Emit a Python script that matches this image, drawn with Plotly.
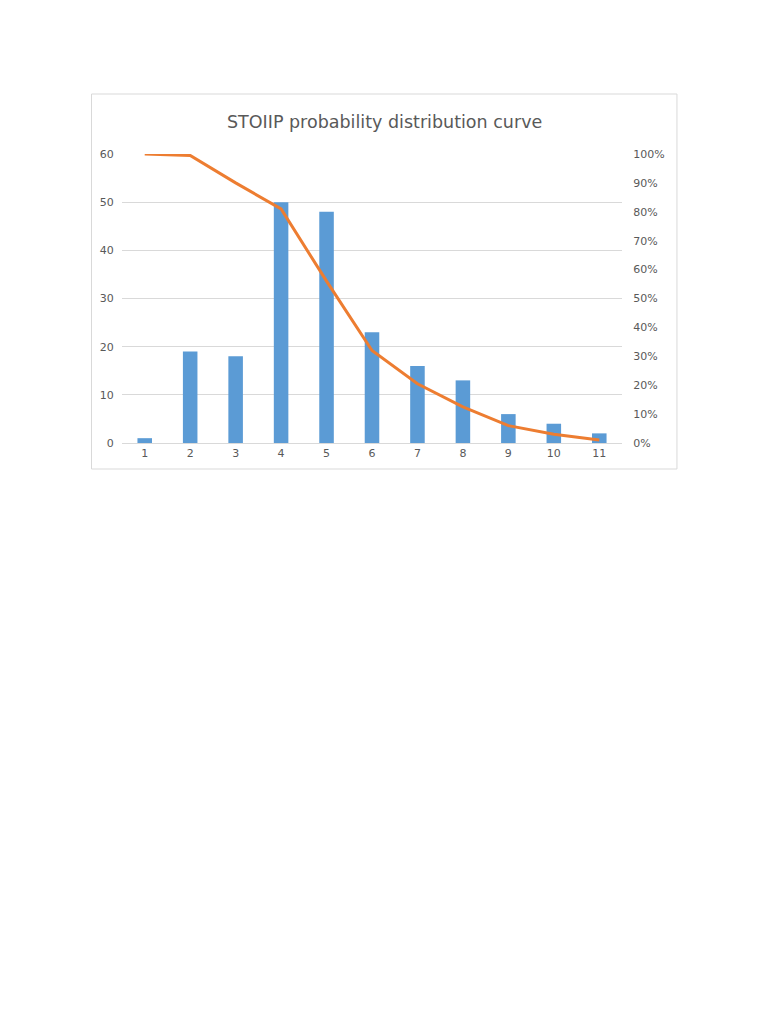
import plotly.graph_objects as go

categories = ["1", "2", "3", "4", "5", "6", "7", "8", "9", "10", "11"]
counts = [1, 19, 18, 50, 48, 23, 16, 13, 6, 4, 2]
cum_prob = [1.0, 0.995, 0.90, 0.81, 0.56, 0.32, 0.205, 0.125, 0.06, 0.03, 0.01]
left_ticks = [0, 10, 20, 30, 40, 50, 60]
right_ticks = [0, 0.1, 0.2, 0.3, 0.4, 0.5, 0.6, 0.7, 0.8, 0.9, 1.0]
title = "STOIIP probability distribution curve"

OFF = 8  # page body margin
W, H = 752, 1000
L, R, T, B = 121.5 - OFF, 622 - OFF, 154 - OFF, 443 - OFF
pw, ph = R - L, B - T

def px(x):
    return (x - OFF - L) / pw

def py(y):
    return (B - (y - OFF)) / ph

font = "DejaVu Sans"
grey = "#595959"

fig = go.Figure()
fig.add_trace(go.Bar(x=categories, y=counts, marker_color="#5B9BD5",
                     marker_line_width=0, width=0.32, yaxis="y"))
fig.add_trace(go.Scatter(x=categories, y=cum_prob, mode="lines",
                         line=dict(color="#ED7D31", width=3),
                         yaxis="y2"))

fig.update_layout(
    width=W, height=H,
    margin=dict(l=L, r=W - R, t=T, b=H - B, pad=0),
    paper_bgcolor="white", plot_bgcolor="white",
    showlegend=False,
    font=dict(family=font, color=grey, size=11),
    xaxis=dict(type="category", range=[-0.5, 10.5], showgrid=False,
               showline=True, linecolor="#d9d9d9", linewidth=1,
               ticks="", tickfont=dict(size=11, color=grey, family=font),
               zeroline=False),
    yaxis=dict(range=[0, 60], tickvals=left_ticks, showgrid=True,
               gridcolor="#d9d9d9", gridwidth=1, zeroline=False,
               showline=False, ticks="outside", ticklen=5, tickcolor="white",
               tickfont=dict(size=11, color=grey, family=font)),
    yaxis2=dict(range=[0, 1], tickvals=right_ticks, tickformat=".0%",
                overlaying="y", side="right", showgrid=False, zeroline=False,
                showline=False, ticks="outside", ticklen=8, tickcolor="white",
                tickfont=dict(size=11, color=grey, family=font)),
    shapes=[dict(type="rect", xref="paper", yref="paper",
                 x0=px(91), x1=px(677), y0=py(469), y1=py(94),
                 line=dict(color="#d9d9d9", width=1), fillcolor="rgba(0,0,0,0)",
                 layer="below")],
    annotations=[dict(text=title, xref="paper", yref="paper",
                      x=px(384), y=py(122), xanchor="center", yanchor="middle",
                      showarrow=False, font=dict(size=17.5, color=grey, family=font))],
)

fig.write_html("out.html")
